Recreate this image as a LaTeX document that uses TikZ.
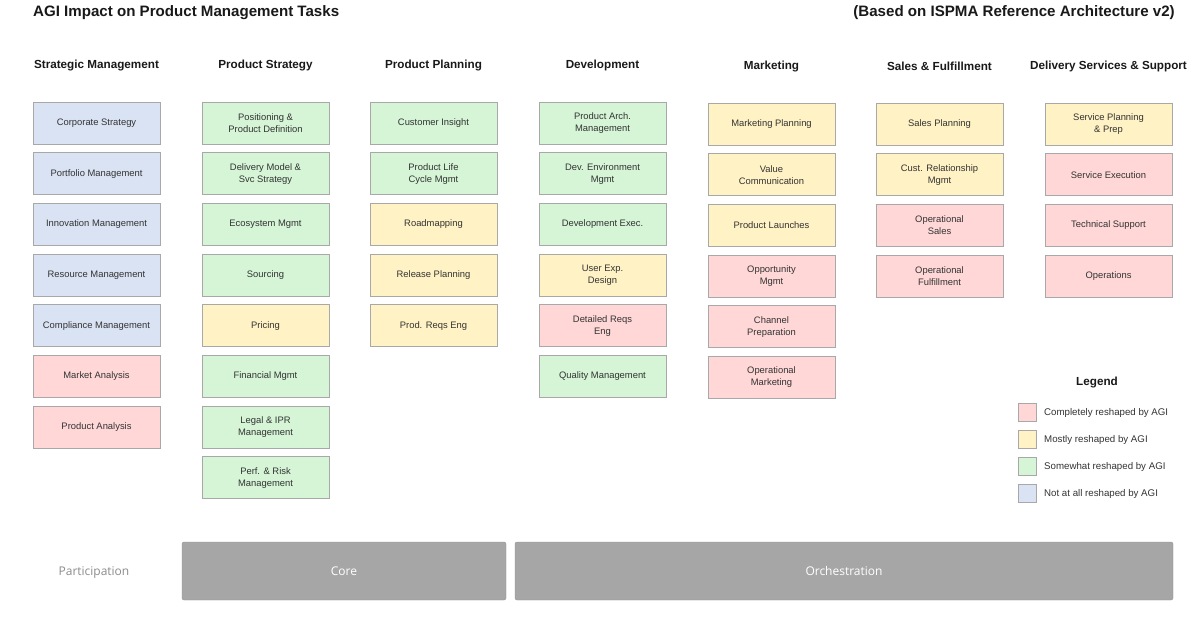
\documentclass[tikz,border=0pt]{standalone}
\usepackage{fontspec}
\setmainfont{Liberation Sans}
\newfontfamily\osans{Open Sans}
\definecolor{cblue}{HTML}{DAE3F3}
\definecolor{cgreen}{HTML}{D5F5D6}
\definecolor{cyellow}{HTML}{FFF2C4}
\definecolor{cpink}{HTML}{FFD7D7}
\definecolor{cborder}{HTML}{A8A8A8}
\definecolor{ctext}{HTML}{333333}
\definecolor{cbar}{HTML}{A6A6A6}
\definecolor{cpart}{HTML}{8C8C8C}
\tikzset{
  task/.style={draw=cborder, line width=0.9pt, minimum width=127pt, minimum height=42pt,
    inner sep=0pt, align=center, text=ctext, font=\fontsize{9.4}{12}\selectfont},
  nb/.style={task, fill=cblue},
  ng/.style={task, fill=cgreen},
  ny/.style={task, fill=cyellow},
  np/.style={task, fill=cpink},
  colhead/.style={font=\bfseries\fontsize{11.7}{13}\selectfont, text=black!90},
  titletext/.style={font=\bfseries\fontsize{15.1}{17}\selectfont, text=black!90},
  swatch/.style={draw=cborder, line width=0.9pt, minimum width=18pt, minimum height=18pt, inner sep=0pt},
  legtext/.style={anchor=west, text=ctext, font=\fontsize{9.7}{12}\selectfont, inner sep=0pt},
  bar/.style={fill=cbar, draw=cbar!90!black, line width=0.4pt, rounded corners=2pt, inner sep=0pt,
    text=white, font=\osans\fontsize{12}{14}\selectfont}
}
\begin{document}
\begin{tikzpicture}[x=1pt,y=-1pt]
\useasboundingbox[fill=white] (0,0) rectangle (1200,643);
% titles
\node[titletext, anchor=west, inner sep=0pt] (title) at (33,12.5) {AGI Impact on Product Management Tasks};
\node[titletext, anchor=east, inner sep=0pt] (subtitle) at (1175,12.5) {(Based on ISPMA Reference Architecture v2)};
% column headers
\node[colhead] (h1) at (96.5,65.5) {Strategic Management};
\node[colhead] (h2) at (265.5,65.5) {Product Strategy};
\node[colhead] (h3) at (433.5,65.5) {Product Planning};
\node[colhead] (h4) at (602.5,65.5) {Development};
\node[colhead] (h5) at (771.5,66.5) {Marketing};
\node[colhead] (h6) at (939.5,66.5) {Sales \& Fulfillment};
\node[colhead] (h7) at (1108.5,66.5) {Delivery Services \& Support};
% column 1
\node[nb] (a1) at (96.5,123) {Corporate Strategy};
\node[nb] (a2) at (96.5,173.7) {Portfolio Management};
\node[nb] (a3) at (96.5,224.4) {Innovation Management};
\node[nb] (a4) at (96.5,275.1) {Resource Management};
\node[nb] (a5) at (96.5,325.8) {Compliance Management};
\node[np] (a6) at (96.5,376.5) {Market Analysis};
\node[np] (a7) at (96.5,427.2) {Product Analysis};
% column 2
\node[ng] (b1) at (265.5,123) {Positioning \&\\Product Definition};
\node[ng] (b2) at (265.5,173.7) {Delivery Model \&\\Svc Strategy};
\node[ng] (b3) at (265.5,224.4) {Ecosystem Mgmt};
\node[ng] (b4) at (265.5,275.1) {Sourcing};
\node[ny] (b5) at (265.5,325.8) {Pricing};
\node[ng] (b6) at (265.5,376.5) {Financial Mgmt};
\node[ng] (b7) at (265.5,427.2) {Legal \& IPR\\Management};
\node[ng] (b8) at (265.5,477.9) {Perf. \& Risk\\Management};
% column 3
\node[ng] (c1) at (433.5,123) {Customer Insight};
\node[ng] (c2) at (433.5,173.7) {Product Life\\Cycle Mgmt};
\node[ny] (c3) at (433.5,224.4) {Roadmapping};
\node[ny] (c4) at (433.5,275.1) {Release Planning};
\node[ny] (c5) at (433.5,325.8) {Prod. Reqs Eng};
% column 4
\node[ng] (d1) at (602.5,123) {Product Arch.\\Management};
\node[ng] (d2) at (602.5,173.7) {Dev. Environment\\Mgmt};
\node[ng] (d3) at (602.5,224.4) {Development Exec.};
\node[ny] (d4) at (602.5,275.1) {User Exp.\\Design};
\node[np] (d5) at (602.5,325.8) {Detailed Reqs\\Eng};
\node[ng] (d6) at (602.5,376.5) {Quality Management};
% column 5
\node[ny] (e1) at (771.5,124) {Marketing Planning};
\node[ny] (e2) at (771.5,174.7) {Value\\Communication};
\node[ny] (e3) at (771.5,225.4) {Product Launches};
\node[np] (e4) at (771.5,276.1) {Opportunity\\Mgmt};
\node[np] (e5) at (771.5,326.8) {Channel\\Preparation};
\node[np] (e6) at (771.5,377.5) {Operational\\Marketing};
% column 6
\node[ny] (f1) at (939.5,124) {Sales Planning};
\node[ny] (f2) at (939.5,174.7) {Cust. Relationship\\Mgmt};
\node[np] (f3) at (939.5,225.4) {Operational\\Sales};
\node[np] (f4) at (939.5,276.1) {Operational\\Fulfillment};
% column 7
\node[ny] (g1) at (1108.5,124) {Service Planning\\\& Prep};
\node[np] (g2) at (1108.5,174.7) {Service Execution};
\node[np] (g3) at (1108.5,225.4) {Technical Support};
\node[np] (g4) at (1108.5,276.1) {Operations};
% legend
\node[font=\bfseries\fontsize{11.7}{13}\selectfont, text=black!90] (legend) at (1097,382) {Legend};
\node[swatch, fill=cpink] (s1) at (1027,412) {};
\node[swatch, fill=cyellow] (s2) at (1027,439) {};
\node[swatch, fill=cgreen] (s3) at (1027,466) {};
\node[swatch, fill=cblue] (s4) at (1027,493) {};
\node[legtext] (l1) at (1044,412.5) {Completely reshaped by AGI};
\node[legtext] (l2) at (1044,439.5) {Mostly reshaped by AGI};
\node[legtext] (l3) at (1044,466.5) {Somewhat reshaped by AGI};
\node[legtext] (l4) at (1044,493.5) {Not at all reshaped by AGI};
% bottom
\node[text=cpart, font=\osans\fontsize{12}{14}\selectfont] (part) at (94,573) {Participation};
\node[bar, minimum width=324pt, minimum height=58pt] (core) at (344,571) {\raisebox{-1pt}{Core}};
\node[bar, minimum width=658pt, minimum height=58pt] (orch) at (844,571) {\raisebox{-1pt}{Orchestration}};
\end{tikzpicture}
\end{document}
